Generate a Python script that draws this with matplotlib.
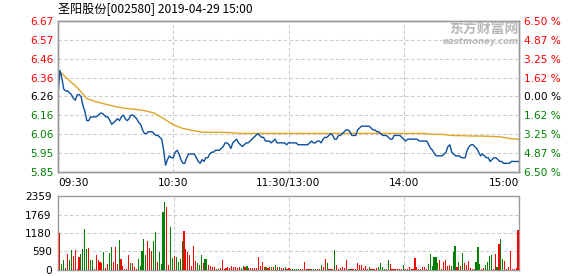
import numpy as np
import matplotlib
matplotlib.use("Agg")
import matplotlib.pyplot as plt

plt.rcParams['font.family'] = ['DejaVu Sans', 'Noto Sans CJK SC']

# ---- data ----
title = "圣阳股份[002580] 2019-04-29 15:00"
pre_close = 6.26
pct_range = 6.50  # % above / below pre-close shown on the axis

time_labels = ["09:30", "10:30", "11:30/13:00", "14:00", "15:00"]
time_ticks = [0, 60, 120, 180, 240]

price_labels = ["6.67", "6.57", "6.46", "6.36", "6.26", "6.16", "6.06", "5.95", "5.85"]
pct_labels = ["6.50 %", "4.87 %", "3.25 %", "1.62 %", "0.00 %",
              "1.62 %", "3.25 %", "4.87 %", "6.50 %"]

vol_ticks = [0, 590, 1180, 1769, 2359]

# minute price, 09:30 .. 15:00 (241 points)
price = [
    6.27, 6.40, 6.36, 6.30, 6.29, 6.29, 6.28, 6.27, 6.25, 6.24,
    6.27, 6.27, 6.26, 6.21, 6.18, 6.13, 6.13, 6.15, 6.15, 6.15,
    6.15, 6.16, 6.17, 6.17, 6.16, 6.15, 6.15, 6.13, 6.11, 6.12,
    6.13, 6.14, 6.13, 6.15, 6.16, 6.14, 6.13, 6.14, 6.16, 6.16,
    6.15, 6.14, 6.12, 6.11, 6.08, 6.06, 6.06, 6.07, 6.07, 6.07,
    6.06, 6.05, 6.05, 6.04, 6.03, 5.97, 5.89, 5.92, 5.94, 5.93,
    5.93, 5.96, 5.97, 5.95, 5.92, 5.90, 5.90, 5.93, 5.95, 5.95,
    5.95, 5.95, 5.93, 5.91, 5.90, 5.92, 5.91, 5.93, 5.93, 5.95,
    5.96, 5.96, 5.97, 5.97, 5.97, 5.98, 5.99, 6.01, 6.01, 6.00,
    5.98, 6.01, 6.02, 6.03, 6.01, 6.00, 5.99, 6.00, 6.01, 6.01,
    6.02, 6.03, 6.04, 6.05, 6.06, 6.05, 6.04, 6.04, 6.02, 6.02,
    6.02, 6.01, 6.02, 6.03, 6.01, 6.01, 6.01, 6.01, 6.01, 6.00,
    6.01, 6.01, 6.01, 6.01, 6.01, 6.00, 6.00, 6.00, 6.00, 6.00,
    6.00, 6.01, 6.02, 6.01, 6.01, 6.02, 6.02, 6.01, 6.03, 6.04,
    6.04, 6.05, 6.06, 6.05, 6.03, 6.03, 6.05, 6.05, 6.06, 6.07,
    6.08, 6.08, 6.07, 6.05, 6.05, 6.05, 6.08, 6.09, 6.10, 6.10,
    6.10, 6.10, 6.10, 6.09, 6.08, 6.08, 6.07, 6.07, 6.06, 6.05,
    6.05, 6.05, 6.04, 6.03, 6.03, 6.05, 6.05, 6.05, 6.05, 6.04,
    6.03, 6.02, 6.03, 6.03, 6.03, 6.03, 6.03, 6.03, 6.02, 6.02,
    6.02, 6.02, 6.02, 6.00, 5.98, 5.97, 5.95, 5.94, 5.94, 5.94,
    5.94, 5.95, 5.96, 5.99, 6.00, 5.96, 5.95, 5.94, 5.94, 5.94,
    5.93, 5.93, 5.93, 5.97, 5.99, 6.00, 6.00, 5.99, 5.98, 5.96,
    5.94, 5.95, 5.94, 5.93, 5.93, 5.91, 5.92, 5.93, 5.93, 5.92,
    5.91, 5.91, 5.90, 5.90, 5.90, 5.90, 5.91, 5.91, 5.91, 5.91,
    5.91,
]

# average price line, sampled every 5 minutes
avg_minutes = list(range(0, 241, 5))
avg_price = [
    6.403, 6.355, 6.308, 6.249, 6.231, 6.218, 6.205, 6.196, 6.191, 6.184,
    6.171, 6.141, 6.108, 6.088, 6.077, 6.068, 6.067, 6.067, 6.065, 6.061,
    6.061, 6.061, 6.061, 6.061, 6.061, 6.061, 6.061, 6.061, 6.061, 6.061,
    6.061, 6.061, 6.061, 6.061, 6.061, 6.061, 6.061, 6.061, 6.061,
    6.056, 6.056, 6.050, 6.049, 6.047, 6.047, 6.045, 6.043, 6.034, 6.029,
]

# minute volume (241 bars) and bar colour r=up / g=down
volume = [
    1190, 191, 319, 53, 510, 319, 638, 446, 638, 20,
    404, 510, 659, 1297, 659, 690, 319, 319, 20, 478,
    319, 266, 213, 574, 74, 191, 553, 723, 266, 723,
    191, 957, 340, 128, 20, 20, 478, 234, 234, 85,
    20, 340, 128, 617, 978, 468, 914, 690, 617, 935,
    1222, 266, 584, 191, 1850, 2158, 1998, 159, 1360, 372,
    446, 404, 266, 340, 935, 1243, 659, 585, 478, 128,
    765, 298, 234, 159, 478, 234, 340, 361, 159, 128,
    85, 85, 20, 20, 53, 319, 20, 64, 85, 53,
    128, 85, 85, 53, 85, 53, 128, 85, 128, 53,
    53, 53, 53, 53, 404, 128, 266, 85, 106, 53,
    85, 85, 85, 159, 85, 85, 53, 53, 85, 43,
    53, 20, 20, 20, 20, 20, 20, 20, 266, 32,
    32, 20, 20, 20, 20, 20, 20, 159, 85, 351,
    213, 20, 20, 32, 638, 159, 32, 64, 85, 53,
    319, 32, 32, 32, 32, 32, 213, 159, 159, 74,
    128, 20, 85, 32, 32, 32, 53, 85, 234, 85,
    20, 32, 319, 191, 32, 32, 32, 20, 32, 32,
    159, 32, 32, 85, 20, 32, 372, 85, 32, 32,
    85, 85, 20, 191, 510, 128, 404, 425, 213, 319,
    20, 266, 319, 128, 159, 128, 585, 765, 85, 266,
    128, 531, 213, 159, 298, 53, 20, 20, 266, 723,
    191, 20, 64, 159, 266, 446, 478, 20, 510, 85,
    829, 989, 361, 298, 20, 85, 617, 20, 32, 53,
    1276,
]
vol_dir = (
    "rgggrggrrr" "rggggrggrr" "rrrgrrggrr" "rgrrrrrgrr" "rgggggrrrg"
    "grggggrrgg" "rggggrrrrr" "rrgggrggrr" "rrgrrrrrrr" "rrrrrggrgr"
    "rrrrrrrrgr" "rgrgrgrrgr"
    "rgggggrrrr" "rrgggrrgrr" "grrrgrrrrr" "rggrrrrrrr" "rrgrrrrggg"
    "grgrrrrrrr" "grrrrrrrrr" "rrrggggggr" "grrrrgggrg" "rgrrrrrrgg"
    "grrggggrrg" "rggrrrrrrr" "r"
)

# ---- styling ----
RED, GREEN, DARK = "#ff0000", "#008000", "#000000"
GRID = "#cccccc"
SPINE = "#999999"
dash = (0, (3, 2.2))

W, H = 578, 276


def px_rect(l, t, r, b):
    return [l / W, 1 - b / H, (r - l) / W, (b - t) / H]


fig = plt.figure(figsize=(W / 100, H / 100), dpi=100)
ax = fig.add_axes(px_rect(58, 21, 519, 172))
axv = fig.add_axes(px_rect(58, 196, 519, 270))

# price panel
minutes = np.arange(len(price))
ax.plot(minutes, price, color="#0b4f9e", lw=1.0, zorder=3)
ax.plot(avg_minutes, avg_price, color="#e0a526", lw=1.0, zorder=2)

span = pre_close * pct_range / 100
ticks = pre_close + span * np.linspace(1, -1, 9)
ax.set_xlim(0, 240)
ax.set_ylim(pre_close - span, pre_close + span)
ax.set_yticks(ticks)
ax.set_yticklabels(price_labels)
tick_colors = [RED] * 4 + [DARK] + [GREEN] * 4
for lab, c in zip(ax.get_yticklabels(), tick_colors):
    lab.set_color(c)

axr = ax.twinx()
axr.set_ylim(ax.get_ylim())
axr.set_yticks(ticks)
axr.set_yticklabels(pct_labels)
for lab, c in zip(axr.get_yticklabels(), tick_colors):
    lab.set_color(c)

ax.set_xticks(time_ticks)
ax.set_xticklabels(time_labels)
xl = ax.get_xticklabels()
xl[0].set_ha("left")
xl[-1].set_ha("right")

for y in ticks[1:-1]:
    ax.axhline(y, color=GRID, lw=0.8, ls=dash, zorder=1)
for x in time_ticks[1:-1]:
    ax.axvline(x, color=GRID, lw=0.8, ls=dash, zorder=1)

ax.tick_params(axis="both", length=0, labelsize=7.6)
ax.tick_params(axis="y", pad=3)
ax.tick_params(axis="x", pad=4)
axr.tick_params(axis="y", length=0, labelsize=7.6, pad=3.5)

# volume panel
bar_colors = [RED if d == "r" else GREEN for d in vol_dir]
axv.bar(np.arange(len(volume)), volume, width=0.6, color=bar_colors,
        linewidth=0, zorder=3)
axv.set_xlim(-1, 240.5)
axv.set_ylim(0, vol_ticks[-1])
axv.set_yticks(vol_ticks)
axv.set_yticklabels([str(v) for v in vol_ticks])
axv.set_xticks([])
for y in vol_ticks[1:-1]:
    axv.axhline(y, color=GRID, lw=0.8, ls=dash, zorder=1)
for x in time_ticks[1:-1]:
    axv.axvline(x, color=GRID, lw=0.8, ls=dash, zorder=1)
axv.tick_params(axis="y", length=0, labelsize=7.6, pad=4.5)

for a in (ax, axr, axv):
    for s in a.spines.values():
        s.set_color(SPINE)
        s.set_linewidth(1.0)

# title and watermark
fig.text(58 / W, 1 - 10 / H, title, fontsize=8.7, ha="left", va="center",
         family=["Noto Sans CJK SC", "DejaVu Sans"])
fig.text(519 / W, 1 - 29 / H, "东方财富网", fontsize=10, ha="right", va="center",
         color="#b8b8b8", fontweight="bold", family=["Noto Sans CJK SC", "DejaVu Sans"])
fig.text(519 / W, 1 - 42 / H, "eastmoney.com", fontsize=6.2, ha="right", va="center",
         color="#b8b8b8", fontweight="bold", style="italic")

fig.savefig("out.png", dpi=100)
